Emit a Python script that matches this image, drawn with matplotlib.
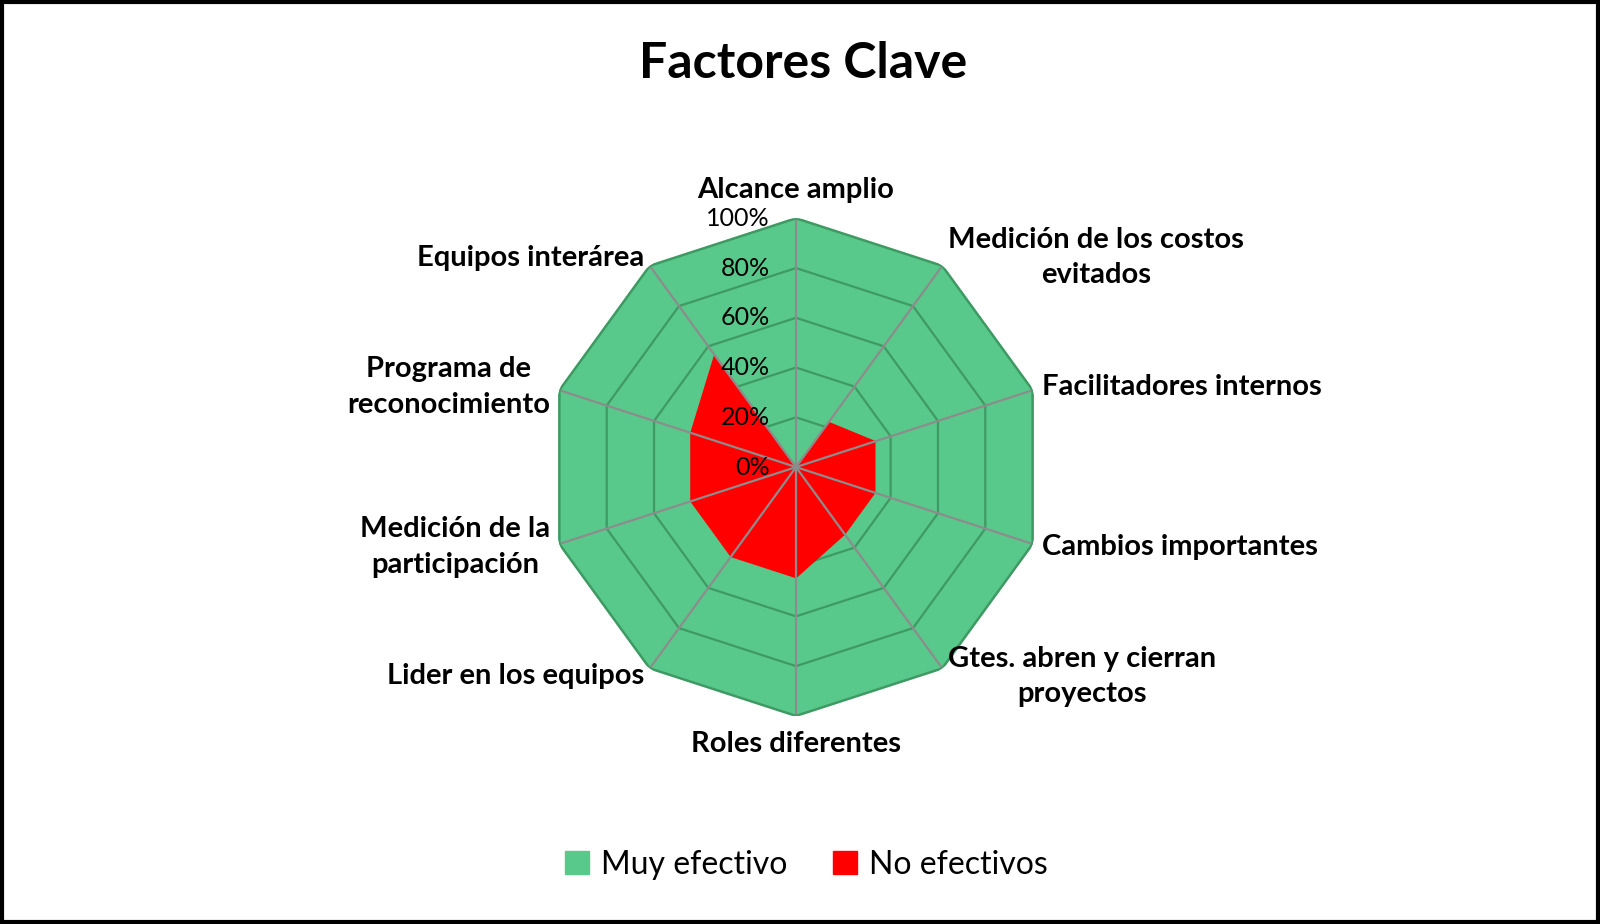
import numpy as np
import matplotlib.pyplot as plt
from matplotlib.patches import Rectangle, Patch

plt.rcParams['font.family'] = ['Lato', 'DejaVu Sans']

categories = ["Alcance amplio", "Medición de los costos\nevitados", "Facilitadores internos",
              "Cambios importantes", "Gtes. abren y cierran\nproyectos", "Roles diferentes",
              "Lider en los equipos", "Medición de la\nparticipación", "Programa de\nreconocimiento",
              "Equipos interárea"]
muy_efectivo = [1.0, 1.0, 1.0, 1.0, 1.0, 1.0, 1.0, 1.0, 1.0, 1.0]
no_efectivos = [0.0, 0.222, 0.333, 0.333, 0.333, 0.444, 0.444, 0.444, 0.444, 0.556]
rings = [0.2, 0.4, 0.6, 0.8, 1.0]
ring_labels = ["20%", "40%", "60%", "80%", "100%"]

green = "#59C98B"
red = "#FF0000"

n = len(categories)
theta = np.linspace(0, 2 * np.pi, n, endpoint=False)
tc = np.append(theta, theta[0])

fig = plt.figure(figsize=(16, 9.24), dpi=100)
ax = fig.add_axes([0.342, 0.225, 0.311, 0.539], projection='polar')
ax.set_theta_offset(np.pi / 2)
ax.set_theta_direction(-1)
ax.set_ylim(0, 1)
ax.grid(False)
ax.spines['polar'].set_visible(False)
ax.set_xticks([])
ax.set_yticks([])
ax.patch.set_alpha(0)

g = np.append(muy_efectivo, muy_efectivo[0])
ax.fill(tc, g, color=green, zorder=1)
ax.plot(tc, g, color="#3E9A62", lw=1.8, zorder=4)
r = np.append(no_efectivos, no_efectivos[0])
ax.fill(tc, r, color=red, zorder=2)

for rv in rings[:-1]:
    ax.plot(tc, [rv] * (n + 1), color="#3E9A62", lw=1.6, zorder=1.5)
for t in theta:
    ax.plot([t, t], [0, 1], color="#8C8C8C", lw=1.6, zorder=3)

# etiquetas del eje radial
for rv, lab in zip([0.0] + rings, ["0%"] + ring_labels):
    ax.annotate(lab, xy=(0, rv), xytext=(-19, 0), textcoords='offset points',
                ha='right', va='center', fontsize=18, zorder=5)

for t, lab in zip(theta, categories):
    s, c = np.sin(t), np.cos(t)
    if abs(s) < 0.01:
        ha = 'center'
        va = 'bottom' if c > 0 else 'top'
        rr = 1.06
    else:
        ha = 'left' if s > 0 else 'right'
        va = 'center'
        rr = 1.04
    ax.text(t, rr, lab, ha=ha, va=va, multialignment='center', linespacing=1.45,
            fontsize=21, fontweight='bold', zorder=5)

fig.text(0.502, 0.931, "Factores Clave", ha='center', va='center',
         fontsize=36, fontweight='bold')

handles = [Patch(color=green, label="Muy efectivo"), Patch(color=red, label="No efectivos")]
fig.legend(handles=handles, loc='center', bbox_to_anchor=(0.504, 0.064), ncol=2,
           frameon=False, fontsize=23, handlelength=0.75, handleheight=0.75,
           handletextpad=0.4, columnspacing=1.4)

fig.patches.append(Rectangle((0.001, 0.002), 0.998, 0.996, transform=fig.transFigure,
                             fill=False, edgecolor='black', lw=3))

fig.savefig("out.png", dpi=100)
